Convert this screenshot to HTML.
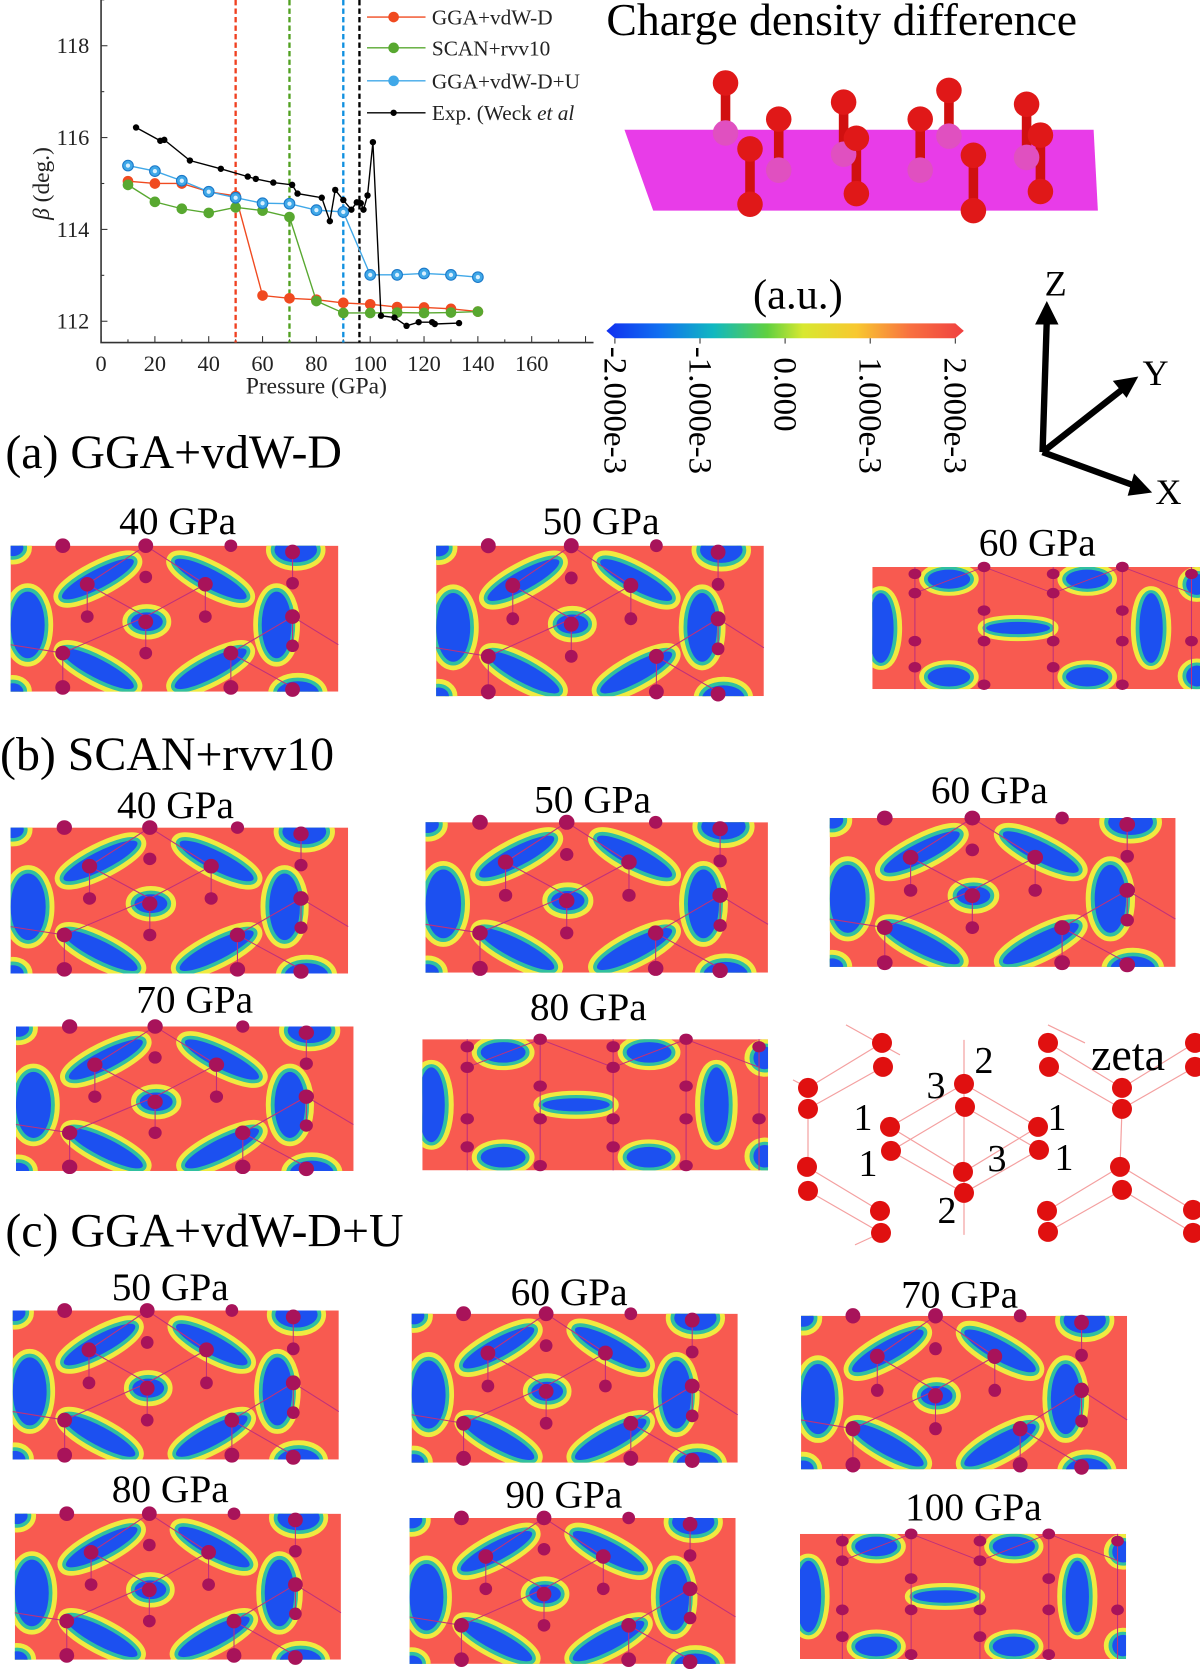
<!DOCTYPE html>
<html><head><meta charset="utf-8"><style>
html,body{margin:0;padding:0;background:#fff;}
svg{display:block;}
text{font-family:"Liberation Serif",serif;}
</style></head><body>
<svg id="fig" xmlns="http://www.w3.org/2000/svg" width="1200" height="1669" viewBox="0 0 1128 1569" preserveAspectRatio="none">
<defs>
  <clipPath id="pclip"><rect x="0" y="0" width="308" height="140"/></clipPath>
  <clipPath id="chartclip"><rect x="0" y="0" width="558" height="400"/></clipPath>
  <linearGradient id="jet" x1="0" x2="1" y1="0" y2="0">
    <stop offset="0" stop-color="#1030f0"/><stop offset="0.15" stop-color="#1070f0"/>
    <stop offset="0.3" stop-color="#10b8c0"/><stop offset="0.45" stop-color="#60d040"/>
    <stop offset="0.55" stop-color="#d8e830"/><stop offset="0.7" stop-color="#f8c830"/>
    <stop offset="0.85" stop-color="#f87040"/><stop offset="1" stop-color="#f04040"/>
  </linearGradient>
  <g id="blobs1">
    <ellipse cx="16" cy="76" rx="16" ry="32"/>
    <ellipse cx="82" cy="32" rx="38" ry="9" transform="rotate(-28 82 32)"/>
    <ellipse cx="82" cy="118" rx="38" ry="9" transform="rotate(28 82 118)"/>
    <ellipse cx="188" cy="32" rx="38" ry="9" transform="rotate(28 188 32)"/>
    <ellipse cx="188" cy="118" rx="38" ry="9" transform="rotate(-28 188 118)"/>
    <ellipse cx="250" cy="76" rx="14" ry="32"/>
    <ellipse cx="128" cy="73" rx="15" ry="9"/>
    <ellipse cx="268" cy="4" rx="20" ry="12"/>
    <ellipse cx="270" cy="142" rx="20" ry="12"/>
    <ellipse cx="2" cy="2" rx="10" ry="8"/>
    <ellipse cx="2" cy="140" rx="10" ry="8"/>
  </g>
  <g id="blobs2">
    <ellipse cx="8" cy="70" rx="12" ry="40"/>
    <ellipse cx="72" cy="14" rx="20" ry="11"/>
    <ellipse cx="72" cy="126" rx="20" ry="11"/>
    <ellipse cx="137" cy="70" rx="30" ry="7"/>
    <ellipse cx="202" cy="14" rx="20" ry="11"/>
    <ellipse cx="202" cy="126" rx="20" ry="11"/>
    <ellipse cx="262" cy="70" rx="11" ry="40"/>
    <ellipse cx="305" cy="20" rx="10" ry="12"/>
    <ellipse cx="305" cy="125" rx="10" ry="12"/>
  </g>
  <g id="atoms1">
    <g stroke="#c0307a" stroke-width="1" fill="none">
      <path d="M127 0 L72 37 M127 0 L183 37 M72 37 L127 68 L183 37 M72 37 L72 68 M183 37 L183 68 M127 68 L127 103 M49 103 L127 68 M49 103 L49 136 M207 103 L265 68 L308 95 M207 103 L207 136 M265 6 L265 36 M265 68 L265 96 M0 95 L49 103 M207 103 L265 136"/>
    </g>
    <g fill="#a8135a">
      <circle cx="49" cy="0" r="7"/><circle cx="127" cy="0" r="7"/><circle cx="207" cy="0" r="6"/><circle cx="265" cy="6" r="7"/>
      <circle cx="72" cy="37" r="7"/><circle cx="127" cy="30" r="6"/><circle cx="183" cy="37" r="7"/><circle cx="265" cy="36" r="6"/>
      <circle cx="72" cy="68" r="6"/><circle cx="127" cy="73" r="7"/><circle cx="183" cy="68" r="6"/><circle cx="265" cy="68" r="7"/>
      <circle cx="49" cy="103" r="7"/><circle cx="127" cy="103" r="6"/><circle cx="207" cy="103" r="7"/><circle cx="265" cy="96" r="6"/>
      <circle cx="49" cy="136" r="7"/><circle cx="207" cy="136" r="7"/><circle cx="265" cy="138" r="7"/>
    </g>
  </g>
  <g id="atoms2">
    <g stroke="#c0307a" stroke-width="1" fill="none">
      <path d="M40 0 L40 140 M105 0 L105 140 M170 0 L170 140 M235 0 L235 140 M300 0 L300 140 M40 30 L105 0 L170 30 L235 0 L300 30"/>
    </g>
    <g fill="#a8135a">
      <circle cx="40" cy="8" r="6"/><circle cx="40" cy="30" r="6"/><circle cx="40" cy="85" r="6"/><circle cx="40" cy="115" r="6"/>
      <circle cx="105" cy="0" r="6"/><circle cx="105" cy="50" r="6"/><circle cx="105" cy="85" r="6"/><circle cx="105" cy="135" r="6"/>
      <circle cx="170" cy="8" r="6"/><circle cx="170" cy="30" r="6"/><circle cx="170" cy="85" r="6"/><circle cx="170" cy="115" r="6"/>
      <circle cx="235" cy="0" r="6"/><circle cx="235" cy="50" r="6"/><circle cx="235" cy="85" r="6"/><circle cx="235" cy="135" r="6"/>
      <circle cx="300" cy="8" r="6"/><circle cx="300" cy="85" r="6"/>
    </g>
  </g>
  <g id="panel1">
    <g clip-path="url(#pclip)">
      <rect x="0" y="0" width="308" height="140" fill="#f85a50"/>
      <use href="#blobs1" fill="#f0ea40" stroke="#f0ea40" stroke-width="16"/>
      <use href="#blobs1" fill="#30c0a0" stroke="#30c0a0" stroke-width="7"/>
      <use href="#blobs1" fill="#1c50f0"/>
    </g>
    <use href="#atoms1"/>
  </g>
  <g id="panel2">
    <g clip-path="url(#pclip)">
      <rect x="0" y="0" width="308" height="140" fill="#f85a50"/>
      <use href="#blobs2" fill="#f0ea40" stroke="#f0ea40" stroke-width="16"/>
      <use href="#blobs2" fill="#30c0a0" stroke="#30c0a0" stroke-width="7"/>
      <use href="#blobs2" fill="#1c50f0"/>
    </g>
    <use href="#atoms2"/>
  </g>
</defs>

<!-- Chart -->
<g id="chart" clip-path="url(#chartclip)"></g>

<!-- top right -->
<text x="570" y="33" font-size="43">Charge density difference</text>
<g>
  <polygon points="587,122 1028,122 1032,198 614,198" fill="#e83ce8"/>
  <g stroke="#d01010" stroke-width="9" stroke-linecap="round">
    <line x1="682" y1="78" x2="682" y2="125"/><line x1="705" y1="140" x2="705" y2="192"/>
    <line x1="732" y1="112" x2="732" y2="160"/><line x1="793" y1="96" x2="793" y2="145"/>
    <line x1="805" y1="130" x2="805" y2="182"/><line x1="865" y1="112" x2="865" y2="160"/>
    <line x1="892" y1="85" x2="892" y2="128"/><line x1="915" y1="146" x2="915" y2="198"/>
    <line x1="965" y1="98" x2="965" y2="148"/><line x1="978" y1="127" x2="978" y2="180"/>
  </g>
  <g fill="#e01818">
    <circle cx="682" cy="78" r="12"/><circle cx="682" cy="125" r="12" fill="#e050c0"/>
    <circle cx="705" cy="140" r="12"/><circle cx="705" cy="192" r="12"/>
    <circle cx="732" cy="112" r="12"/><circle cx="732" cy="160" r="12" fill="#e050c0"/>
    <circle cx="793" cy="96" r="12"/><circle cx="793" cy="145" r="12" fill="#e050c0"/>
    <circle cx="805" cy="130" r="12"/><circle cx="805" cy="182" r="12"/>
    <circle cx="865" cy="112" r="12"/><circle cx="865" cy="160" r="12" fill="#e050c0"/>
    <circle cx="892" cy="85" r="12"/><circle cx="892" cy="128" r="12" fill="#e050c0"/>
    <circle cx="915" cy="146" r="12"/><circle cx="915" cy="198" r="12"/>
    <circle cx="965" cy="98" r="12"/><circle cx="965" cy="148" r="12" fill="#e050c0"/>
    <circle cx="978" cy="127" r="12"/><circle cx="978" cy="180" r="12"/>
  </g>
</g>
<text x="750" y="290" font-size="40" text-anchor="middle">(a.u.)</text>
<g>
  <polygon points="570,311 578,304 898,304 906,311 898,318 578,318" fill="url(#jet)"/>
  <g stroke="#333" stroke-width="1"><line x1="578" y1="318" x2="578" y2="323"/><line x1="658" y1="318" x2="658" y2="323"/><line x1="738" y1="318" x2="738" y2="323"/><line x1="818" y1="318" x2="818" y2="323"/><line x1="898" y1="318" x2="898" y2="323"/></g>
  <g font-size="31">
    <text transform="translate(568,326) rotate(90)">-2.000e-3</text>
    <text transform="translate(648,326) rotate(90)">-1.000e-3</text>
    <text transform="translate(728,336) rotate(90)">0.000</text>
    <text transform="translate(808,336) rotate(90)">1.000e-3</text>
    <text transform="translate(888,336) rotate(90)">2.000e-3</text>
  </g>
</g>
<g stroke="#000" stroke-width="6" fill="#000">
  <line x1="980" y1="425" x2="984" y2="300"/><polygon points="984,283 973,305 995,305" stroke="none"/>
  <line x1="980" y1="425" x2="1055" y2="366"/><polygon points="1070,354 1046,358 1059,374" stroke="none"/>
  <line x1="980" y1="425" x2="1065" y2="456"/><polygon points="1083,463 1066,445 1060,466" stroke="none"/>
</g>
<text x="982" y="278" font-size="34">Z</text>
<text x="1074" y="362" font-size="34">Y</text>
<text x="1086" y="474" font-size="34">X</text>

<!-- section labels -->
<text x="5" y="440" font-size="45">(a) GGA+vdW-D</text>
<text x="0" y="724" font-size="45">(b) SCAN+rvv10</text>
<text x="5" y="1172" font-size="45">(c) GGA+vdW-D+U</text>

<g font-size="37" text-anchor="middle">
  <text x="167" y="502">40 GPa</text><text x="565" y="502">50 GPa</text><text x="975" y="522">60 GPa</text>
  <text x="165" y="769">40 GPa</text><text x="557" y="764">50 GPa</text><text x="930" y="755">60 GPa</text>
  <text x="183" y="952">70 GPa</text><text x="553" y="959">80 GPa</text>
  <text x="160" y="1222">50 GPa</text><text x="535" y="1227">60 GPa</text><text x="902" y="1229">70 GPa</text>
  <text x="160" y="1412">80 GPa</text><text x="530" y="1417">90 GPa</text><text x="915" y="1429">100 GPa</text>
</g>

<g>
  <use href="#panel1" transform="translate(10,513) scale(1,0.98)"/>
  <use href="#panel1" transform="translate(410,513) scale(1,1.01)"/>
  <use href="#panel2" transform="translate(820,533) scale(1,0.82)"/>
  <use href="#panel1" transform="translate(10,778) scale(1.03,0.98)"/>
  <use href="#panel1" transform="translate(400,773) scale(1.045,1.01)"/>
  <use href="#panel1" transform="translate(780,769) scale(1.055,1.0)"/>
  <use href="#panel1" transform="translate(15,965) scale(1.03,0.97)"/>
  <use href="#panel2" transform="translate(397,977) scale(1.055,0.88)"/>
  <use href="#panel1" transform="translate(12,1232) scale(0.995,1.0)"/>
  <use href="#panel1" transform="translate(387,1235) scale(0.995,1.0)"/>
  <use href="#panel1" transform="translate(753,1237) scale(0.995,1.03)"/>
  <use href="#panel1" transform="translate(14,1423) scale(0.995,0.98)"/>
  <use href="#panel1" transform="translate(385,1427) scale(0.995,0.98)"/>
  <use href="#panel2" transform="translate(752,1442) scale(0.995,0.84)"/>
</g>

<!-- zeta structure (drawn in original pixel coords) -->
<g transform="scale(0.94)">
  <g stroke="#f4a0a0" stroke-width="1.2" fill="none">
    <path d="M890 1127 L964 1084 L1038 1127 L964 1172 Z M891 1151 L965 1107 L1039 1150 L964 1193 Z M964 1040 L964 1235"/>
    <path d="M808 1088 L882 1043 M808 1109 L883 1067 M808 1109 L808 1167 M807 1167 L880 1211 M808 1191 L881 1233 M793 1080 L808 1088 M846 1025 L900 1055 M855 1245 L881 1233"/>
    <path d="M1048 1043 L1122 1088 M1049 1067 L1122 1109 M1122 1109 L1120 1167 M1047 1211 L1120 1167 M1048 1232 L1122 1190 M1048 1025 L1085 1043 M1195 1043 L1122 1088 M1193 1210 L1122 1167 M1195 1067 L1122 1109 M1193 1233 L1122 1190"/>
  </g>
  <g fill="#e01010">
    <circle cx="882" cy="1043" r="10"/><circle cx="883" cy="1067" r="10"/>
    <circle cx="808" cy="1088" r="10"/><circle cx="808" cy="1109" r="10"/>
    <circle cx="807" cy="1167" r="10"/><circle cx="808" cy="1191" r="10"/>
    <circle cx="880" cy="1211" r="10"/><circle cx="881" cy="1233" r="10"/>
    <circle cx="964" cy="1084" r="10"/><circle cx="965" cy="1107" r="10"/>
    <circle cx="890" cy="1127" r="10"/><circle cx="891" cy="1151" r="10"/>
    <circle cx="1038" cy="1127" r="10"/><circle cx="1039" cy="1150" r="10"/>
    <circle cx="963" cy="1172" r="10"/><circle cx="964" cy="1193" r="10"/>
    <circle cx="1048" cy="1043" r="10"/><circle cx="1049" cy="1067" r="10"/>
    <circle cx="1122" cy="1088" r="10"/><circle cx="1122" cy="1109" r="10"/>
    <circle cx="1120" cy="1167" r="10"/><circle cx="1122" cy="1190" r="10"/>
    <circle cx="1047" cy="1211" r="10"/><circle cx="1048" cy="1232" r="10"/>
    <circle cx="1195" cy="1043" r="10"/><circle cx="1195" cy="1067" r="10"/>
    <circle cx="1193" cy="1210" r="10"/><circle cx="1193" cy="1233" r="10"/>
  </g>
  <g font-size="38" text-anchor="middle">
    <text x="984" y="1073">2</text><text x="936" y="1098">3</text><text x="863" y="1130">1</text>
    <text x="868" y="1176">1</text><text x="1057" y="1130">1</text><text x="1064" y="1170">1</text>
    <text x="997" y="1171">3</text><text x="947" y="1223">2</text>
  </g>
  <text x="1128" y="1070" font-size="46" text-anchor="middle">zeta</text>
</g>
</svg>
<script>
const pressures = [10,20,30,40,50,60,70,80,90,100,110,120,130,140];
const ggaVals  = [115.05,115.0,115.0,114.82,114.73,112.56,112.50,112.47,112.40,112.37,112.31,112.30,112.27,112.21];
const scanVals = [114.97,114.6,114.45,114.36,114.48,114.41,114.27,112.44,112.18,112.18,112.19,112.18,112.19,112.21];
const ggaUVals = [115.39,115.27,115.06,114.82,114.69,114.57,114.56,114.42,114.38,113.01,113.01,113.04,113.01,112.96];
const expP     = [13,22,23.5,33,44.5,54.5,57.5,64,71,73,82,85,87,90,93,95,96.5,97.5,99,101,104,109,113.5,118,123,124,133];
const expVals  = [116.22,115.93,115.95,115.5,115.32,115.15,115.1,115.02,114.97,114.78,114.69,114.18,114.86,114.64,114.43,114.59,114.57,114.43,114.74,115.9,112.12,112.08,111.9,111.98,111.98,111.94,111.96];
const transitions = [50,70,90,96];
const transColors = ["#f04020","#50a020","#1090e0","#000000"];
const xTicks = [0,20,40,60,80,100,120,140,160];
const yTicks = [112,114,116,118];
const legendLabels = ["GGA+vdW-D","SCAN+rvv10","GGA+vdW-D+U","Exp. (Weck "];

const NS="http://www.w3.org/2000/svg";
const g=document.getElementById('chart');
const X0=95, PXG=2.53, Y118=43;
function xs(p){return X0+p*PXG;}
function ys(v){return Y118+(118-v)*((302-43)/6);}
function mk(tag,attrs,parent){const e=document.createElementNS(NS,tag);for(const k in attrs)e.setAttribute(k,attrs[k]);(parent||g).appendChild(e);return e;}
const frame=mk('path',{d:`M${X0} 0 L${X0} 322 L558 322`,stroke:'#333',fill:'none','stroke-width':1.5});


for(let p=0;p<=180;p+=10){mk('line',{x1:xs(p),x2:xs(p),y1:322,y2:p%20===0?316:319,stroke:'#333'});}
for(let v=112;v<=119;v+=1){mk('line',{x1:X0,x2:X0+(v%2===0?6:3),y1:ys(v),y2:ys(v),stroke:'#333'});}
xTicks.forEach(t=>{const e=mk('text',{x:xs(t),y:349,'font-size':21,'text-anchor':'middle',fill:'#222'});e.textContent=t;

});
yTicks.forEach(t=>{const e=mk('text',{x:X0-11,y:ys(t)+7,'font-size':21,'text-anchor':'end',fill:'#222'});e.textContent=t;

});
const xt=mk('text',{x:xs(80),y:370,'font-size':22,'text-anchor':'middle',fill:'#222'});xt.textContent='Pressure (GPa)';


const yt=mk('text',{transform:`translate(46,${ys(115)}) rotate(-90)`,'font-size':22,'text-anchor':'middle',fill:'#222'});
yt.innerHTML='<tspan font-style="italic">β</tspan> (deg.)';


transitions.forEach((p,i)=>{const l=mk('line',{x1:xs(p),x2:xs(p),y1:0,y2:322,stroke:transColors[i],'stroke-width':2.2,'stroke-dasharray':'5,3'});

});
function series(xsArr,vals,color,r,hollow,name){
  const pl=mk('polyline',{points:xsArr.map((p,i)=>xs(p)+','+ys(vals[i])).join(' '),fill:'none',stroke:color,'stroke-width':1.3});
  
  
  xsArr.forEach((p,i)=>{const c=mk('circle',{cx:xs(p),cy:ys(vals[i]),r:r,fill:color,stroke:hollow?'#1a78c8':'none','stroke-width':1});
  
  
  if(hollow){mk('circle',{cx:xs(p),cy:ys(vals[i]),r:2,fill:'#d8f0ff'});}});
}
series(pressures,ggaVals,'#f04a20',5,false,'gga-vdw-d');
series(pressures,scanVals,'#58a830',5,false,'scan-rvv10');
series(pressures,ggaUVals,'#40a8e8',5,true,'gga-vdw-d-u');
series(expP,expVals,'#000',3,false,'exp-weck');
const lcol=['#f04a20','#58a830','#40a8e8','#000'];
const ly=[16,45,76,106];
legendLabels.forEach((lab,i)=>{
  const l=mk('line',{x1:345,x2:400,y1:ly[i],y2:ly[i],stroke:lcol[i],'stroke-width':1.3});
  
  
  mk('circle',{cx:370,cy:ly[i],r:i===3?3:5,fill:lcol[i]});
  const t=mk('text',{x:406,y:ly[i]+7,'font-size':20,fill:'#222'});t.textContent=lab;
  if(i===3){const ts=document.createElementNS(NS,'tspan');ts.setAttribute('font-style','italic');ts.textContent='et al';t.appendChild(ts);}
  
  
});
</script>
</body></html>
